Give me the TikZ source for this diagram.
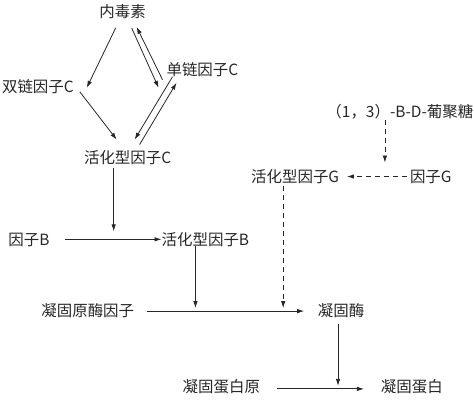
\documentclass[tikz,border=0pt]{standalone}
\usepackage{fontspec}
\newfontfamily\cjk{Noto Sans CJK SC}
\usetikzlibrary{arrows.meta,calc}

\begin{document}
\begin{tikzpicture}[x=1pt,y=1pt,yscale=-1,xscale=1,
  txt/.style={inner sep=0.75pt,text=black!85,font=\cjk\fontsize{15.5}{18}\selectfont},
  arr/.style={draw=black!85,line width=0.8pt,-{Latex[length=7pt,width=4.5pt]}},
  darr/.style={arr,dash pattern=on 5pt off 4pt}]
\path (0,0) rectangle (474,401); %set diagram size 474 x 401

% Text Node
\node[txt] (ndt) at (123,12) {内毒素};
% Text Node
\node[txt] (slc) at (38,87) {双链因子C};
% Text Node
\node[txt] (dlc) at (203,70) {单链因子C};
% Text Node
\node[txt] (hc) at (128,158) {活化型因子C};
% Text Node
\node[txt] (glu) at (401,112) {（1，3）-B-D-葡聚糖};
% Text Node
\node[txt] (hg) at (296,177) {活化型因子G};
% Text Node
\node[txt] (g) at (432,177) {因子G};
% Text Node
\node[txt] (b) at (29,241) {因子B};
% Text Node
\node[txt] (hb) at (206,240) {活化型因子B};
% Text Node
\node[txt] (pro) at (88,312) {凝固原酶因子};
% Text Node
\node[txt] (enz) at (342,312) {凝固酶};
% Text Node
\node[txt] (fbg) at (222,388) {凝固蛋白原};
% Text Node
\node[txt] (fb) at (413,388) {凝固蛋白};

%Straight Lines
\draw[arr] ($(ndt)+(-7,16)$) -- ($(slc)+(49,1)$);
%Straight Lines
\draw[arr] ($(ndt)+(9,16)$) -- ($(dlc)+(-44,18)$);
%Straight Lines
\draw[arr] ($(dlc)+(-40,10)$) -- ($(ndt)+(14,15)$);
%Straight Lines
\draw[arr] ($(slc)+(42,5)$) -- ($(hc)+(-11,-18)$);
%Straight Lines
\draw[arr] ($(dlc)+(-30,7)$) -- ($(hc)+(7,-18)$);
%Straight Lines
\draw[arr] ($(hc)+(12,-13)$) -- ($(dlc)+(-26,13)$);
%Straight Lines
\draw[arr] ($(hc)+(-14,10)$) -- ($(b)+(85,-9)$);
%Straight Lines
\draw[arr] ($(b)+(36,-1)$) -- ($(hb)+(-44,0)$);
%Straight Lines
\draw[arr] ($(hb)+(-10,7)$) -- ($(pro)+(108,-3)$);
%Straight Lines
\draw[arr] ($(pro)+(59,0)$) -- ($(enz)+(-37,0)$);
%Straight Lines
\draw[darr] ($(glu)+(-15,8)$) -- ($(g)+(-46,-14)$);
%Straight Lines
\draw[darr] ($(g)+(-24,0)$) -- ($(hg)+(52,0)$);
%Straight Lines
\draw[darr] ($(hg)+(-12,10)$) -- ($(enz)+(-58,-3)$);
%Straight Lines
\draw[arr] ($(enz)+(-3,13)$) -- ($(fb)+(-74,-1)$);
%Straight Lines
\draw[arr] ($(fbg)+(56,2)$) -- ($(fb)+(-48,2)$);

\end{tikzpicture}
\end{document}
